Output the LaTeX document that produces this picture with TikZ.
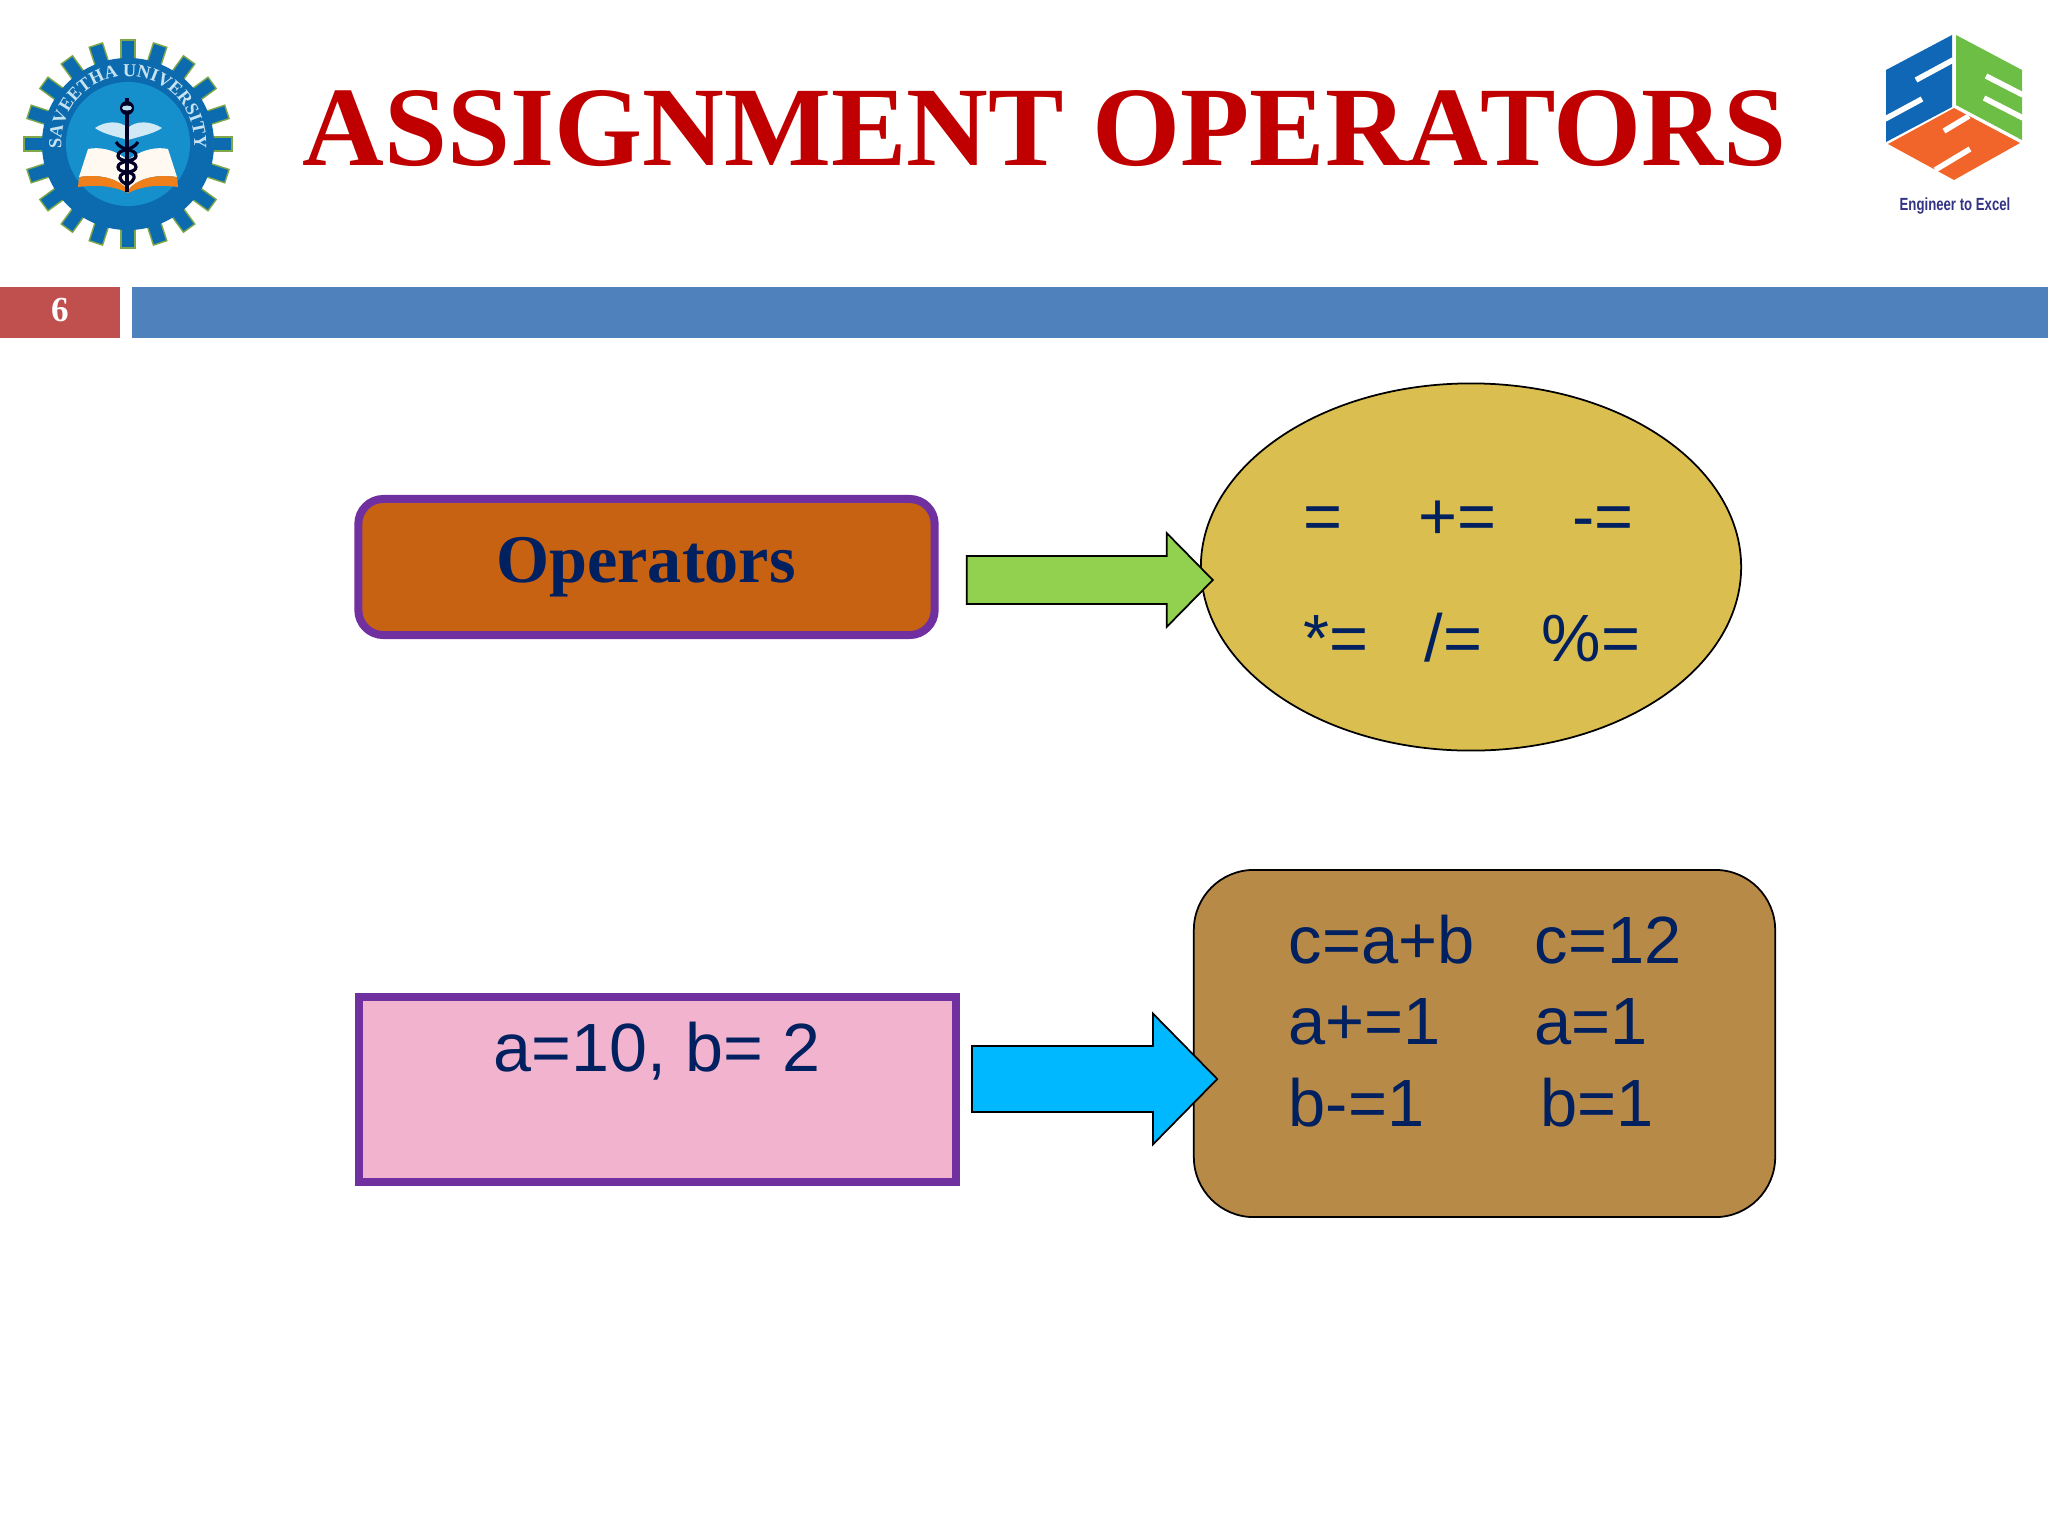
\documentclass[tikz,border=0pt]{standalone}
\usepackage{fontspec}
\setmainfont{Liberation Serif}
\setsansfont{Liberation Sans}
\usetikzlibrary{shapes.geometric}
\usetikzlibrary{shapes.arrows}
\usetikzlibrary{decorations.text}

\definecolor{barblue}{HTML}{4F81BD}
\definecolor{barred}{HTML}{C0504D}
\definecolor{titlered}{HTML}{C00000}
\definecolor{navytext}{HTML}{002060}
\definecolor{boxpurple}{HTML}{7030A0}
\definecolor{boxorange}{HTML}{C76213}
\definecolor{boxpink}{HTML}{F2B3CE}
\definecolor{boxbrown}{HTML}{B88A48}
\definecolor{ovalgold}{HTML}{DBBE50}
\definecolor{arrowgreen}{HTML}{92D050}
\definecolor{arrowblue}{HTML}{00B8FF}
\definecolor{gearblue}{HTML}{0C6BAE}
\definecolor{gearedge}{HTML}{7FA84A}
\definecolor{sealblue}{HTML}{1590CC}
\definecolor{bookorange}{HTML}{EE7F1A}
\definecolor{sesblue}{HTML}{0F67B5}
\definecolor{sesgreen}{HTML}{6DBE45}
\definecolor{sesorange}{HTML}{F2652A}

\tikzset{
  optext/.style={font=\sffamily\fontsize{19}{23}\selectfont, text=navytext, anchor=base west, inner sep=0pt},
  blockarrow/.style={single arrow, draw=black, line width=0.5pt, inner xsep=0pt, outer sep=0pt,
    single arrow tip angle=91},
  slit/.style={white, line width=0.055cm}
}

\begin{document}
\begin{tikzpicture}[x=0.01cm,y=-0.01cm]

% Page
\fill[white] (0,0) rectangle (2048,1536);
\useasboundingbox (0,0) rectangle (2048,1536);

% Title and bars
\node[font=\bfseries\fontsize{32.2}{38}\selectfont, text=titlered, anchor=base west, inner sep=0pt] (title) at (302,165) {ASSIGNMENT OPERATORS};
\fill[barred] (0,287) rectangle (120,338);
\fill[barblue] (132,287) rectangle (2048,338);
\node[font=\bfseries\fontsize{10}{12}\selectfont, text=white, inner sep=0pt] (pagenum) at (60,310) {6};

% Seal gear
\foreach \a in {0,18,...,342}
  \filldraw[gearblue, draw=gearedge, line width=0.4pt, rotate around={\a:(128,144)}] (121,40) rectangle (135,70);
\fill[gearblue] (128,144) circle (0.86cm);
\fill[sealblue] (128,144) circle (0.62cm);

% Seal lettering
\path[decorate, decoration={text along path, text align=center,
  text={|\bfseries\fontsize{5.2}{6}\selectfont\color{white!75!sealblue}|SAVEETHA UNIVERSITY}}]
  (68.5,173.1) arc[start angle=207, end angle=-27, radius=0.665cm];

% Seal book
\fill[white!95!orange] (128,160) .. controls (112,148) and (98,147) .. (88,149) -- (79,177) .. controls (100,174) and (118,178) .. (128,190)
  .. controls (138,178) and (156,174) .. (177,177) -- (168,149) .. controls (158,147) and (144,148) .. (128,160) -- cycle;
\fill[bookorange] (79,177) .. controls (100,174) and (118,178) .. (128,190) .. controls (138,178) and (156,174) .. (177,177)
  -- (178,187) .. controls (155,184) and (140,187) .. (128,193) .. controls (116,187) and (100,184) .. (78,187) -- cycle;

% Seal wings and staff
\fill[white!80!sealblue] (128,140) .. controls (115,136) and (103,134) .. (95,128) .. controls (105,121) and (120,120) .. (128,128)
  .. controls (136,120) and (151,121) .. (162,128) .. controls (153,134) and (141,136) .. (128,140) -- cycle;
\draw[black!85!blue, line width=1.1pt] (127,98) -- (127,192);
\fill[black!85!blue] (127,108) circle (0.07cm);
\fill[white!70!sealblue] (127,108) ellipse (0.05cm and 0.025cm);
\draw[black!85!blue, line width=0.9pt] (116,142) .. controls (122,152) and (136,148) .. (136,156)
  .. controls (136,162) and (118,160) .. (118,167) .. controls (118,174) and (136,170) .. (134,178) .. controls (132,184) and (128,182) .. (127,186);
\draw[black!85!blue, line width=0.9pt] (138,142) .. controls (132,152) and (118,148) .. (118,156)
  .. controls (118,162) and (136,160) .. (136,167) .. controls (136,174) and (120,170) .. (120,178) .. controls (122,184) and (126,182) .. (127,186);

% Logo panels
\fill[sesblue] (1886,70) -- (1952,35) -- (1952,107) -- (1886,142) -- cycle;
\fill[sesgreen] (1956,35) -- (2022,70) -- (2022,140) -- (1956,105) -- cycle;
\fill[sesorange] (1954,108) -- (2020,143) -- (1954,180) -- (1888,144) -- cycle;

% Logo slits
\draw[slit] (1916,80) -- (1953,60);
\draw[slit] (1885,119) -- (1922,99);
\draw[slit] (1986,76) -- (2023,95);
\draw[slit] (1984,98) -- (2023,118);
\draw[slit] (1969,116) -- (1944,131);
\draw[slit] (1935,170) -- (1970,149);
\node[font=\sffamily\bfseries\fontsize{5}{6}\selectfont, text=black!60!blue!80!white, inner sep=0pt, xscale=0.75] (motto) at (1955,206) {Engineer to Excel};

% Top row
\node[draw=boxpurple, line width=0.08cm, fill=boxorange, rounded corners=0.25cm, minimum width=5.76cm, minimum height=1.36cm, inner sep=0pt] (opsbox) at (646.5,567) {};
\node[font=\bfseries\fontsize{19.4}{23}\selectfont, text=navytext, inner sep=0pt, anchor=base] (opslabel) at (646,582) {Operators};
\node[draw=black, line width=0.5pt, fill=ovalgold, ellipse, minimum width=5.4cm, minimum height=3.67cm, inner sep=0pt, outer sep=0pt] (opsoval) at (1471,567) {};
\node[blockarrow, fill=arrowgreen, minimum height=2.46cm, minimum width=0.92cm, inner ysep=0.23cm, single arrow head extend=0.23cm] (greenarrow) at (1078,580) {};

\node[optext] (opa) at (1303,539) {=};
\node[optext] (opb) at (1418,539) {+=};
\node[optext] (opc) at (1572,539) {-=};
\node[optext] (opd) at (1303,661) {*=};
\node[optext] (ope) at (1424,661) {/=};
\node[optext] (opf) at (1541,661) {\%=};

% Bottom row
\node[draw=boxpurple, line width=0.08cm, fill=boxpink, minimum width=5.97cm, minimum height=1.85cm, inner sep=0pt] (valuebox) at (657.5,1089.5) {};
\node[optext, anchor=base, font=\sffamily\fontsize{19.4}{23}\selectfont] (valuelabel) at (657,1071) {a=10, b= 2};
\node[draw=black, line width=0.5pt, fill=boxbrown, rounded corners=0.6cm, minimum width=5.81cm, minimum height=3.47cm, inner sep=0pt] (resultbox) at (1484.5,1043.5) {};
\node[blockarrow, fill=arrowblue, minimum height=2.45cm, minimum width=1.29cm, inner ysep=0.32cm, single arrow head extend=0.325cm] (bluearrow) at (1078.5,1079) {};

\node[optext] (resa) at (1288,963) {c=a+b};
\node[optext] (resb) at (1534,963) {c=12};
\node[optext] (resc) at (1288,1044) {a+=1};
\node[optext] (resd) at (1534,1044) {a=1};
\node[optext] (rese) at (1288,1126) {b-=1};
\node[optext] (resf) at (1540,1126) {b=1};

\end{tikzpicture}
\end{document}
